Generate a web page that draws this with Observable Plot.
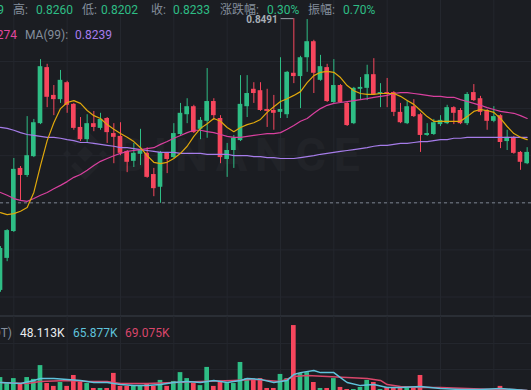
<!DOCTYPE html>
<html><head><meta charset="utf-8">
<script src="https://cdn.jsdelivr.net/npm/d3@7"></script>
<script src="https://cdn.jsdelivr.net/npm/@observablehq/plot@0.6"></script>
<style>
html,body{margin:0;padding:0;background:#1b1d22;}
#wrap{position:relative;width:531px;height:390px;overflow:hidden;background:#1b1d22;font-family:Roboto,"Noto Sans CJK SC",sans-serif;}
#price{position:absolute;left:0;top:0;width:531px;height:316px;}
#vol{position:absolute;left:0;top:316px;width:531px;height:74px;}
#sep{position:absolute;left:0;top:315px;width:531px;height:2px;background:#2a2e35;}
#wm{position:absolute;left:0;top:0;width:531px;height:316px;}
.t{position:absolute;white-space:nowrap;font-size:12px;line-height:14px;}
svg.plot{background:transparent;}
</style></head>
<body>
<div id="wrap">
  <svg id="wm" width="531" height="316">
    <g fill="#212328">
      <path d="M85 146 L93 154 L85 162 L77 154 Z"/>
      <path d="M67 150 L71 154 L67 158 L63 154 Z"/>
      <path d="M103 150 L107 154 L103 158 L99 154 Z"/>
      <path d="M85 128 L99 142 L95 146 L85 136 L75 146 L71 142 Z"/>
      <path d="M85 180 L99 166 L95 162 L85 172 L75 162 L71 166 Z"/>
    </g>
    <text x="116" y="171" font-family="Roboto, sans-serif" font-weight="700" font-size="47" fill="#212328" textLength="244" lengthAdjust="spacing">BINANCE</text>
  </svg>
  <div id="price"></div>
  <div id="sep"></div>
  <div id="vol"></div>
</div>
<script>
// ---- data ----
const opens = [0.7914,0.7982,0.8039,0.8173,0.8158,0.8198,0.8268,0.8387,0.8328,0.8319,
0.8355,0.8309,0.8260,0.8234,0.8268,0.8258,0.8279,0.8247,0.8241,0.8209,
0.8188,0.8203,0.8205,0.8160,0.8133,0.8205,0.8196,0.8245,0.8287,0.8304,
0.8256,0.8273,0.8315,0.8279,0.8192,0.8211,0.8232,0.8304,0.8341,0.8338,
0.8298,0.8296,0.8292,0.8287,0.8375,0.8368,0.8408,0.8442,0.8360,0.8387,
0.8313,0.8349,0.8311,0.8268,0.8341,0.8343,0.8372,0.8330,0.8334,0.8334,
0.8292,0.8268,0.8304,0.8287,0.8243,0.8245,0.8266,0.8268,0.8302,0.8296,
0.8268,0.8334,0.8321,0.8296,0.8273,0.8285,0.8230,0.8239,0.8207,0.8183];
const closes = [0.8003,0.8041,0.8171,0.8158,0.8200,0.8270,0.8389,0.8324,0.8319,0.8360,
0.8307,0.8258,0.8234,0.8268,0.8260,0.8277,0.8249,0.8239,0.8205,0.8186,
0.8205,0.8211,0.8154,0.8130,0.8207,0.8192,0.8247,0.8290,0.8304,0.8249,
0.8275,0.8315,0.8285,0.8196,0.8211,0.8237,0.8309,0.8332,0.8332,0.8296,
0.8294,0.8290,0.8298,0.8377,0.8368,0.8408,0.8442,0.8375,0.8389,0.8315,
0.8349,0.8313,0.8264,0.8343,0.8345,0.8372,0.8330,0.8334,0.8332,0.8292,
0.8270,0.8304,0.8283,0.8243,0.8247,0.8270,0.8275,0.8302,0.8290,0.8268,
0.8330,0.8317,0.8292,0.8273,0.8283,0.8228,0.8239,0.8205,0.8186,0.8207];
const highs = [0.8007,0.8043,0.8194,0.8177,0.8283,0.8277,0.8404,0.8394,0.8349,0.8381,
0.8358,0.8311,0.8281,0.8287,0.8294,0.8290,0.8281,0.8268,0.8270,0.8211,
0.8226,0.8256,0.8217,0.8173,0.8209,0.8207,0.8268,0.8311,0.8321,0.8307,
0.8281,0.8385,0.8321,0.8285,0.8226,0.8243,0.8370,0.8370,0.8355,0.8355,
0.8341,0.8328,0.8408,0.8379,0.8491,0.8411,0.8489,0.8445,0.8413,0.8394,
0.8404,0.8351,0.8313,0.8345,0.8366,0.8392,0.8406,0.8353,0.8364,0.8336,
0.8311,0.8317,0.8319,0.8290,0.8268,0.8277,0.8285,0.8307,0.8304,0.8300,
0.8334,0.8351,0.8326,0.8298,0.8304,0.8287,0.8254,0.8241,0.8209,0.8217];
const lows = [0.7910,0.7975,0.8037,0.8105,0.8154,0.8196,0.8266,0.8302,0.8285,0.8311,
0.8290,0.8254,0.8230,0.8228,0.8251,0.8254,0.8226,0.8183,0.8200,0.8164,
0.8175,0.8179,0.8152,0.8113,0.8099,0.8162,0.8194,0.8243,0.8268,0.8247,
0.8234,0.8237,0.8275,0.8183,0.8154,0.8173,0.8230,0.8281,0.8311,0.8294,
0.8260,0.8254,0.8279,0.8279,0.8353,0.8300,0.8377,0.8332,0.8358,0.8313,
0.8311,0.8311,0.8262,0.8266,0.8317,0.8317,0.8328,0.8302,0.8302,0.8283,
0.8268,0.8266,0.8281,0.8207,0.8241,0.8243,0.8262,0.8266,0.8266,0.8266,
0.8264,0.8315,0.8285,0.8254,0.8270,0.8215,0.8211,0.8203,0.8169,0.8181];
// volume in K USDT
const volumes = [69,46,65,46,69,62,115,46,35,50, 35,77,50,46,27,27,27,85,35,35,
38,38,46,35,58,35,54,88,65,46, 38,108,35,50,46,46,127,65,62,65,
27,27,81,65,269,85,88,50,27,27, 65,31,23,23,31,58,50,23,31,31,
27,27,27,77,15,12,15,12,15,12, 15,12,12,15,12,35,15,12,23,15];
const ma7 = [0.8079,0.8075,0.8077,0.8082,0.8090,0.8122,0.8179,0.8232,0.8270,0.8300,
0.8313,0.8317,0.8311,0.8296,0.8285,0.8279,0.8266,0.8256,0.8247,0.8239,
0.8230,0.8217,0.8200,0.8186,0.8183,0.8186,0.8194,0.8205,0.8220,0.8241,
0.8258,0.8268,0.8279,0.8273,0.8260,0.8251,0.8260,0.8266,0.8270,0.8277,
0.8292,0.8304,0.8315,0.8321,0.8328,0.8336,0.8355,0.8370,0.8377,0.8379,
0.8377,0.8366,0.8349,0.8338,0.8332,0.8330,0.8330,0.8332,0.8332,0.8332,
0.8326,0.8317,0.8309,0.8296,0.8283,0.8273,0.8273,0.8273,0.8273,0.8273,
0.8283,0.8294,0.8298,0.8296,0.8292,0.8279,0.8262,0.8247,0.8239,0.8234];
const ma25 = [0.8122,0.8116,0.8109,0.8105,0.8103,0.8109,0.8116,0.8122,0.8130,0.8137,
0.8145,0.8154,0.8160,0.8169,0.8179,0.8188,0.8194,0.8200,0.8205,0.8209,
0.8211,0.8213,0.8215,0.8217,0.8224,0.8230,0.8237,0.8243,0.8249,0.8254,
0.8254,0.8251,0.8249,0.8245,0.8241,0.8239,0.8239,0.8241,0.8243,0.8245,
0.8247,0.8247,0.8249,0.8256,0.8264,0.8273,0.8279,0.8290,0.8300,0.8307,
0.8311,0.8313,0.8315,0.8317,0.8319,0.8321,0.8324,0.8326,0.8328,0.8332,
0.8334,0.8334,0.8332,0.8330,0.8328,0.8326,0.8326,0.8324,0.8324,0.8319,
0.8315,0.8311,0.8307,0.8302,0.8298,0.8294,0.8292,0.8290,0.8285,0.8279];
const ma99 = [0.8260,0.8258,0.8254,0.8249,0.8245,0.8243,0.8241,0.8239,0.8239,0.8237,
0.8234,0.8232,0.8228,0.8228,0.8226,0.8224,0.8222,0.8220,0.8217,0.8217,
0.8215,0.8213,0.8211,0.8209,0.8207,0.8207,0.8207,0.8205,0.8205,0.8205,
0.8205,0.8203,0.8203,0.8203,0.8203,0.8200,0.8200,0.8200,0.8198,0.8198,
0.8196,0.8196,0.8194,0.8194,0.8194,0.8196,0.8198,0.8200,0.8203,0.8205,
0.8207,0.8209,0.8211,0.8213,0.8215,0.8217,0.8220,0.8222,0.8222,0.8224,
0.8226,0.8226,0.8228,0.8230,0.8230,0.8232,0.8234,0.8234,0.8237,0.8237,
0.8239,0.8239,0.8239,0.8239,0.8239,0.8239,0.8239,0.8239,0.8239,0.8239];
const volMaCyanIdx = [0,3,5,6,8,10,12,14,16,18,20,22,24,26,28,30,32,34,36,37,39,41,43,44,45,47,48,50,51,52,54,56,58,60,63,66,69,72,75,77,79];
const volMaCyan = [50,46,58,65,65,62,58,50,50,42,38,38,42,50,54,50,58,50,58,65,62,50,58,81,88,96,88,88,69,50,38,42,31,31,35,27,23,23,27,23,19];
const volMaRedIdx = [0,4,6,10,13,16,18,22,26,30,35,38,40,42,44,46,49,52,55,57,58,60,63,66,70,74,77,79];
const volMaRed = [50,46,54,58,54,54,46,46,50,54,58,62,58,54,73,77,73,69,65,58,42,35,31,31,27,23,23,19];
const priceGrid = [0.79,0.80,0.81,0.82,0.83,0.84];
const alertPrice = [0.81];
const volGrid = [100,200];
const timeGridIdx = [2,10,18,26,34,42,50,58,66,74];

// ---- info texts ----
const infoTop = [
  ["开: 0.8209", null, "#2ebd85"],
  ["高:", 13, "#848e9c"], ["0.8260", 36, "#2ebd85"],
  ["低:", 82, "#848e9c"], ["0.8202", 101, "#2ebd85"],
  ["收:", 151, "#848e9c"], ["0.8233", 173, "#2ebd85"],
  ["涨跌幅:", 220, "#848e9c"], ["0.30%", 267, "#2ebd85"],
  ["振幅:", 308, "#848e9c"], ["0.70%", 343, "#2ebd85"]
];
const infoMa = [["MA(25): 0.8274", null, "#e0479e"], ["MA(99):", 25, "#848e9c"], ["0.8239", 75, "#a77cec"]];
const infoVol = [["Vol(USDT)", null, "#848e9c"], ["48.113K", 20, "#eaecef"], ["65.877K", 73, "#5fc3dc"], ["69.075K", 125, "#d9466a"]];

const GREEN = "#2ebd85", RED = "#f6465d", GRID = "#24272e";

const candles = opens.map((o, i) => ({i, o, c: closes[i], h: highs[i], l: lows[i], v: volumes[i], up: closes[i] >= o}));
const topCandle = candles.reduce((a, b) => (b.h > a.h ? b : a));
const xDomain = [0, 79.65];
const pY = [0.78586, 0.85295];

const pricePlot = Plot.plot({
  width: 531, height: 316, margin: 0,
  style: {background: "transparent", overflow: "hidden"},
  x: {domain: xDomain, axis: null},
  y: {domain: pY, axis: null},
  marks: [
    Plot.ruleY(priceGrid, {stroke: GRID, strokeWidth: 1}),
    Plot.ruleX(timeGridIdx, {stroke: GRID, strokeWidth: 1}),
    Plot.ruleY(alertPrice, {stroke: "#5d636d", strokeWidth: 1.5, strokeDasharray: "3,3"}),
    Plot.ruleX(candles, {x: "i", y1: "l", y2: "h", stroke: d => d.up ? GREEN : RED, strokeWidth: 1}),
    Plot.rect(candles, {x1: d => d.i - 0.35, x2: d => d.i + 0.35, y1: "o", y2: "c", fill: d => d.up ? GREEN : RED}),
    Plot.line(ma99, {x: (d, i) => i, y: d => d, stroke: "#a57ce9", strokeWidth: 1.2}),
    Plot.line(ma25, {x: (d, i) => i, y: d => d, stroke: "#d9409f", strokeWidth: 1.2}),
    Plot.line(ma7, {x: (d, i) => i, y: d => d, stroke: "#e0a80c", strokeWidth: 1.2}),
    Plot.ruleY([topCandle], {y: "h", x1: d => d.i - 1.9, x2: d => d.i, stroke: "#9aa0a8", strokeWidth: 1}),
    Plot.text([topCandle], {x: "i", y: "h", text: d => d.h.toFixed(4), dx: -16, dy: 1, textAnchor: "end", fill: "#a7adb5", fontSize: 10, fontWeight: 700, fontFamily: "Roboto, sans-serif"})
  ]
});
document.getElementById("price").appendChild(pricePlot);

const volPlot = Plot.plot({
  width: 531, height: 74, margin: 0,
  style: {background: "transparent", overflow: "hidden"},
  x: {domain: xDomain, axis: null},
  y: {domain: [0, 303.8], range: [79, 0], axis: null},
  marks: [
    Plot.ruleY(volGrid, {stroke: GRID}),
    Plot.ruleX(timeGridIdx, {stroke: GRID}),
    Plot.rect(candles, {x1: d => d.i - 0.35, x2: d => d.i + 0.35, y1: 0, y2: "v", fill: d => d.up ? GREEN : RED}),
    Plot.line(volMaRed, {x: (d, k) => volMaRedIdx[k], y: d => d, stroke: "#d9466a", strokeWidth: 1.5}),
    Plot.line(volMaCyan, {x: (d, k) => volMaCyanIdx[k], y: d => d, stroke: "#5fc3dc", strokeWidth: 1.5})
  ]
});
document.getElementById("vol").appendChild(volPlot);

// ---- text overlays ----
const wrap = document.getElementById("wrap");
function addRow(items, rowTop, rightEdgeOfCut) {
  for (const [txt, left, color] of items) {
    const s = document.createElement("div");
    s.className = "t";
    s.textContent = txt;
    s.style.color = color;
    s.style.top = rowTop + "px";
    if (left === null) {
      s.style.left = (rightEdgeOfCut - 120) + "px";
      s.style.width = "120px";
      s.style.textAlign = "right";
    } else {
      s.style.left = left + "px";
    }
    wrap.appendChild(s);
  }
}
addRow(infoTop, 3, 4);
addRow(infoMa, 28, 17);
addRow(infoVol, 326, 12);
</script>
</body></html>
